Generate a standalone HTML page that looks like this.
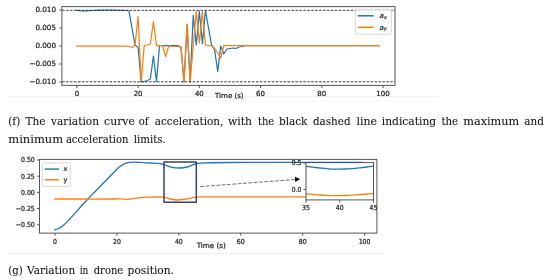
<!DOCTYPE html>
<html><head><meta charset="utf-8"><title>figure</title>
<style>
html,body{margin:0;padding:0;background:#fff;}
body{width:550px;height:280px;overflow:hidden;}
svg{display:block;}
.tk{stroke:#444;stroke-width:0.9;}
.ax text{stroke:#222;stroke-width:0.22px;}
.ax text.cd{font-family:'DejaVu Sans Condensed','DejaVu Sans',sans-serif;font-stretch:condensed;}
</style></head><body>
<svg width="550" height="280" viewBox="0 0 550 280"><rect x="0" y="0" width="550" height="280" fill="#fff"/><line x1="8" y1="96.4" x2="438" y2="96.4" stroke="#f0f0f0" stroke-width="1"/><line x1="8" y1="101.3" x2="432" y2="101.3" stroke="#fafafa" stroke-width="1"/><line x1="8" y1="253.5" x2="384" y2="253.5" stroke="#f0f0f0" stroke-width="1"/><g font-family="'DejaVu Sans', sans-serif" fill="#222" class="ax"><clipPath id="c1"><rect x="61.9" y="6.6" width="333.1" height="78.80000000000001"/></clipPath><g clip-path="url(#c1)"><polyline points="75.94,10.40 76.86,10.40 79.92,10.70 82.98,11.00 86.05,10.80 89.11,10.60 92.17,10.50 95.23,10.40 98.29,10.20 101.36,10.00 104.42,10.00 107.48,10.00 110.54,10.00 113.60,10.00 116.67,10.20 119.73,10.30 122.79,10.40 125.85,10.50 128.91,11.00 131.98,28.00 135.04,45.00 138.10,47.50 141.16,82.00 144.22,81.50 147.29,80.50 150.35,79.00 153.41,56.00 156.47,81.50 159.53,45.50 162.60,45.50 165.66,45.50 168.72,45.50 171.78,45.50 174.84,45.50 177.91,45.60 180.97,47.20 184.03,82.00 187.09,24.50 190.15,82.00 193.22,15.40 196.28,45.00 199.34,11.20 202.40,43.60 205.46,10.70 208.53,28.00 211.59,45.00 214.65,50.00 217.71,71.50 220.77,46.00 223.84,54.00 226.90,49.00 229.96,48.50 233.02,48.00 236.08,48.50 239.15,47.00 242.21,46.50 245.27,45.70 248.33,45.70 251.39,45.70 254.46,45.70 257.52,45.70 260.58,45.70 263.64,45.70 266.70,45.70 269.77,45.70 272.83,45.70 275.89,45.70 278.95,45.70 282.01,45.70 285.08,45.70 288.14,45.70 291.20,45.70 294.26,45.70 297.32,45.70 300.39,45.70 303.45,45.70 306.51,45.70 309.57,45.70 312.63,45.70 315.70,45.70 318.76,45.70 321.82,45.70 324.88,45.70 327.94,45.70 331.01,45.70 334.07,45.70 337.13,45.70 340.19,45.70 343.25,45.70 346.32,45.70 349.38,45.70 352.44,45.70 355.50,45.70 358.56,45.70 361.63,45.70 364.69,45.70 367.75,45.70 370.81,45.70 373.87,45.70 376.94,45.70 380.00,45.70" fill="none" stroke="#1f77b4" stroke-width="1.25" stroke-linejoin="round"/><polyline points="75.94,46.00 76.86,46.00 79.92,46.00 82.98,46.00 86.05,46.00 89.11,46.00 92.17,46.00 95.23,46.00 98.29,46.00 101.36,46.00 104.42,46.00 107.48,46.00 110.54,46.00 113.60,46.00 116.67,46.00 119.73,46.00 122.79,46.00 125.85,46.00 128.91,46.50 131.98,47.50 135.04,45.00 138.10,16.50 141.16,82.00 144.22,45.50 147.29,45.00 150.35,44.00 153.41,21.50 156.47,45.50 159.53,45.50 162.60,45.50 165.66,56.50 168.72,46.00 171.78,46.30 174.84,46.50 177.91,46.70 180.97,47.00 184.03,82.00 187.09,24.00 190.15,82.00 193.22,46.00 196.28,11.20 199.34,43.00 202.40,11.50 205.46,45.20 208.53,45.50 211.59,45.50 214.65,48.50 217.71,53.00 220.77,58.00 223.84,45.50 226.90,45.70 229.96,45.70 233.02,45.70 236.08,45.70 239.15,45.70 242.21,45.70 245.27,45.70 248.33,45.70 251.39,45.70 254.46,45.70 257.52,45.70 260.58,45.70 263.64,45.70 266.70,45.70 269.77,45.70 272.83,45.70 275.89,45.70 278.95,45.70 282.01,45.70 285.08,45.70 288.14,45.70 291.20,45.70 294.26,45.70 297.32,45.70 300.39,45.70 303.45,45.70 306.51,45.70 309.57,45.70 312.63,45.70 315.70,45.70 318.76,45.70 321.82,45.70 324.88,45.70 327.94,45.70 331.01,45.70 334.07,45.70 337.13,45.70 340.19,45.70 343.25,45.70 346.32,45.70 349.38,45.70 352.44,45.70 355.50,45.70 358.56,45.70 361.63,45.70 364.69,45.70 367.75,45.70 370.81,45.70 373.87,45.70 376.94,45.70 380.00,45.70" fill="none" stroke="#ff7f0e" stroke-width="1.25" stroke-linejoin="round"/><line x1="62.19" y1="10.3" x2="395.0" y2="10.3" stroke="#222" stroke-width="0.9" stroke-dasharray="2.5,1.453"/><line x1="62.19" y1="81.8" x2="395.0" y2="81.8" stroke="#222" stroke-width="0.9" stroke-dasharray="2.5,1.453"/></g><rect x="61.9" y="6.6" width="333.1" height="78.80000000000001" fill="none" stroke="#555" stroke-width="1"/><line x1="59.30" y1="10.00" x2="61.90" y2="10.00" class="tk"/><text x="56.00" y="12.29" text-anchor="end" font-size="7.2">0.010</text><line x1="59.30" y1="28.00" x2="61.90" y2="28.00" class="tk"/><text x="56.00" y="30.29" text-anchor="end" font-size="7.2">0.005</text><line x1="59.30" y1="46.00" x2="61.90" y2="46.00" class="tk"/><text x="56.00" y="48.29" text-anchor="end" font-size="7.2">0.000</text><line x1="59.30" y1="64.00" x2="61.90" y2="64.00" class="tk"/><text x="56.00" y="66.29" text-anchor="end" font-size="7.2">−0.005</text><line x1="59.30" y1="82.00" x2="61.90" y2="82.00" class="tk"/><text x="56.00" y="84.29" text-anchor="end" font-size="7.2">−0.010</text><line x1="76.86" y1="85.40" x2="76.86" y2="88.00" class="tk"/><text x="76.86" y="95.80" text-anchor="middle" font-size="7.0">0</text><line x1="138.10" y1="85.40" x2="138.10" y2="88.00" class="tk"/><text x="138.10" y="95.80" text-anchor="middle" font-size="7.0">20</text><line x1="199.34" y1="85.40" x2="199.34" y2="88.00" class="tk"/><text x="199.34" y="95.80" text-anchor="middle" font-size="7.0">40</text><line x1="260.58" y1="85.40" x2="260.58" y2="88.00" class="tk"/><text x="260.58" y="95.80" text-anchor="middle" font-size="7.0">60</text><line x1="321.82" y1="85.40" x2="321.82" y2="88.00" class="tk"/><text x="321.82" y="95.80" text-anchor="middle" font-size="7.0">80</text><line x1="383.06" y1="85.40" x2="383.06" y2="88.00" class="tk"/><text x="383.06" y="95.80" text-anchor="middle" font-size="7.0">100</text><text x="229.3" y="98.3" text-anchor="middle" font-size="7.0">Time (s)</text><rect x="355.4" y="9.2" width="36" height="25" rx="1.5" fill="#fff" fill-opacity="0.8" stroke="#d0d0d0" stroke-width="0.8"/><line x1="357.9" y1="15.8" x2="373.7" y2="15.8" stroke="#1f77b4" stroke-width="1.5"/><line x1="357.9" y1="27.3" x2="373.7" y2="27.3" stroke="#ff7f0e" stroke-width="1.5"/><text x="379.5" y="18.1" font-size="7.2" font-style="italic">a<tspan font-size="4.8" dy="0.8">x</tspan></text><text x="379.5" y="29.5" font-size="7.2" font-style="italic">a<tspan font-size="4.8" dy="0.8">y</tspan></text></g><g font-family="'DejaVu Sans', sans-serif" fill="#222" class="ax"><clipPath id="c2"><rect x="39.5" y="159.4" width="337.4" height="73.69999999999999"/></clipPath><g clip-path="url(#c2)"><path d="M54.10,230.00 C54.67,229.83 56.38,229.43 57.50,229.00 C58.62,228.57 59.80,228.03 60.80,227.40 C61.80,226.77 62.58,226.00 63.50,225.20 C64.42,224.40 64.93,223.98 66.30,222.60 C67.67,221.22 69.90,218.85 71.70,216.90 C73.50,214.95 75.30,212.92 77.10,210.90 C78.90,208.88 80.73,206.75 82.50,204.80 C84.27,202.85 85.62,201.38 87.70,199.20 C89.78,197.02 92.45,194.32 95.00,191.70 C97.55,189.08 100.33,186.23 103.00,183.50 C105.67,180.77 108.47,177.88 111.00,175.30 C113.53,172.72 116.62,169.52 118.20,168.00 C119.78,166.48 119.78,166.72 120.50,166.20 C121.22,165.68 121.58,165.40 122.50,164.90 C123.42,164.40 124.75,163.62 126.00,163.20 C127.25,162.78 128.50,162.57 130.00,162.40 C131.50,162.23 133.33,162.20 135.00,162.20 C136.67,162.20 137.50,162.27 140.00,162.40 C142.50,162.53 146.67,162.80 150.00,163.00 C153.33,163.20 157.50,163.27 160.00,163.60 C162.50,163.93 163.00,164.38 165.00,165.00 C167.00,165.62 169.50,166.80 172.00,167.30 C174.50,167.80 177.50,168.05 180.00,168.00 C182.50,167.95 184.83,167.53 187.00,167.00 C189.17,166.47 191.33,165.38 193.00,164.80 C194.67,164.22 195.00,163.83 197.00,163.50 C199.00,163.17 199.50,162.97 205.00,162.80 C210.50,162.63 214.17,162.57 230.00,162.50 C245.83,162.43 278.00,162.42 300.00,162.40 C322.00,162.38 351.67,162.40 362.00,162.40" fill="none" stroke="#1f77b4" stroke-width="1.3"/><path d="M54.40,199.00 C58.67,199.00 70.23,199.00 80.00,199.00 C89.77,199.00 107.00,199.10 113.00,199.00 C119.00,198.90 115.00,198.43 116.00,198.40 C117.00,198.37 117.00,198.65 119.00,198.80 C121.00,198.95 125.33,199.38 128.00,199.30 C130.67,199.22 133.00,198.58 135.00,198.30 C137.00,198.02 137.50,197.78 140.00,197.60 C142.50,197.42 146.67,197.30 150.00,197.20 C153.33,197.10 157.67,197.00 160.00,197.00 C162.33,197.00 162.33,196.87 164.00,197.20 C165.67,197.53 167.67,198.53 170.00,199.00 C172.33,199.47 175.33,200.00 178.00,200.00 C180.67,200.00 183.50,199.40 186.00,199.00 C188.50,198.60 190.67,197.95 193.00,197.60 C195.33,197.25 198.00,197.03 200.00,196.90 C202.00,196.77 195.00,196.82 205.00,196.80 C215.00,196.78 233.83,196.80 260.00,196.80 C286.17,196.80 345.00,196.80 362.00,196.80" fill="none" stroke="#ff7f0e" stroke-width="1.3"/></g><rect x="39.5" y="159.4" width="337.4" height="73.69999999999999" fill="none" stroke="#555" stroke-width="1"/><line x1="36.90" y1="160.00" x2="39.50" y2="160.00" class="tk"/><text class="cd" x="34.80" y="162.48" text-anchor="end" font-size="6.9">0.50</text><line x1="36.90" y1="176.20" x2="39.50" y2="176.20" class="tk"/><text class="cd" x="34.80" y="178.68" text-anchor="end" font-size="6.9">0.25</text><line x1="36.90" y1="192.40" x2="39.50" y2="192.40" class="tk"/><text class="cd" x="34.80" y="194.88" text-anchor="end" font-size="6.9">0.00</text><line x1="36.90" y1="208.60" x2="39.50" y2="208.60" class="tk"/><text class="cd" x="34.80" y="211.08" text-anchor="end" font-size="6.9">−0.25</text><line x1="36.90" y1="224.80" x2="39.50" y2="224.80" class="tk"/><text class="cd" x="34.80" y="227.28" text-anchor="end" font-size="6.9">−0.50</text><line x1="55.00" y1="233.10" x2="55.00" y2="235.70" class="tk"/><text class="cd" x="55.00" y="243.90" text-anchor="middle" font-size="6.9">0</text><line x1="116.92" y1="233.10" x2="116.92" y2="235.70" class="tk"/><text class="cd" x="116.92" y="243.90" text-anchor="middle" font-size="6.9">20</text><line x1="178.84" y1="233.10" x2="178.84" y2="235.70" class="tk"/><text class="cd" x="178.84" y="243.90" text-anchor="middle" font-size="6.9">40</text><line x1="240.76" y1="233.10" x2="240.76" y2="235.70" class="tk"/><text class="cd" x="240.76" y="243.90" text-anchor="middle" font-size="6.9">60</text><line x1="302.68" y1="233.10" x2="302.68" y2="235.70" class="tk"/><text class="cd" x="302.68" y="243.90" text-anchor="middle" font-size="6.9">80</text><line x1="364.60" y1="233.10" x2="364.60" y2="235.70" class="tk"/><text class="cd" x="364.60" y="243.90" text-anchor="middle" font-size="6.9">100</text><text x="211.3" y="248" text-anchor="middle" font-size="7.2">Time (s)</text><rect x="42.3" y="162.8" width="28" height="23.7" rx="1.5" fill="#fff" fill-opacity="0.8" stroke="#d0d0d0" stroke-width="0.8"/><line x1="44.7" y1="169.1" x2="58.9" y2="169.1" stroke="#1f77b4" stroke-width="1.45"/><line x1="44.7" y1="179.8" x2="58.9" y2="179.8" stroke="#ff7f0e" stroke-width="1.45"/><text x="63.4" y="171.4" font-size="6.6">x</text><text x="63.4" y="182.4" font-size="6.6">y</text><rect x="164" y="162" width="32.3" height="40.2" fill="none" stroke="#34426d" stroke-width="1.5" stroke-linejoin="round"/><line x1="200.3" y1="186.6" x2="295" y2="179.5" stroke="#6a6a6a" stroke-width="0.95" stroke-dasharray="3.8,1.55"/><polygon points="300.1,179.1 294.9,176.7 295.3,181.9" fill="#000"/><rect x="306.0" y="162.6" width="67.5" height="37.30000000000001" fill="#fff"/><clipPath id="c3"><rect x="306.0" y="162.6" width="67.5" height="37.30000000000001"/></clipPath><g clip-path="url(#c3)"><path d="M306.00,166.40 C307.17,166.53 310.67,166.93 313.00,167.20 C315.33,167.47 317.67,167.75 320.00,168.00 C322.33,168.25 324.50,168.50 327.00,168.70 C329.50,168.90 332.00,169.15 335.00,169.20 C338.00,169.25 342.17,169.10 345.00,169.00 C347.83,168.90 349.50,168.80 352.00,168.60 C354.50,168.40 357.50,168.07 360.00,167.80 C362.50,167.53 364.75,167.27 367.00,167.00 C369.25,166.73 372.42,166.33 373.50,166.20" fill="none" stroke="#1f77b4" stroke-width="1.3"/><path d="M306.00,193.80 C307.17,193.88 310.67,194.10 313.00,194.30 C315.33,194.50 317.67,194.82 320.00,195.00 C322.33,195.18 324.50,195.30 327.00,195.40 C329.50,195.50 332.00,195.58 335.00,195.60 C338.00,195.62 342.17,195.58 345.00,195.50 C347.83,195.42 349.50,195.27 352.00,195.10 C354.50,194.93 357.50,194.68 360.00,194.50 C362.50,194.32 364.75,194.17 367.00,194.00 C369.25,193.83 372.42,193.58 373.50,193.50" fill="none" stroke="#ff7f0e" stroke-width="1.3"/></g><rect x="306.0" y="162.6" width="67.5" height="37.30000000000001" fill="none" stroke="#555" stroke-width="1"/><line x1="305.5" y1="162.5" x2="361.8" y2="162.5" stroke="#285a86" stroke-width="1.2"/><line x1="303.40" y1="163.00" x2="306.00" y2="163.00" class="tk"/><text class="cd" x="301.50" y="165.45" text-anchor="end" font-size="6.8">0.5</text><line x1="303.40" y1="189.40" x2="306.00" y2="189.40" class="tk"/><text class="cd" x="301.50" y="191.85" text-anchor="end" font-size="6.8">0.0</text><line x1="306.00" y1="199.90" x2="306.00" y2="202.50" class="tk"/><text class="cd" x="306.00" y="210.20" text-anchor="middle" font-size="6.8">35</text><line x1="339.75" y1="199.90" x2="339.75" y2="202.50" class="tk"/><text class="cd" x="339.75" y="210.20" text-anchor="middle" font-size="6.8">40</text><line x1="373.50" y1="199.90" x2="373.50" y2="202.50" class="tk"/><text class="cd" x="373.50" y="210.20" text-anchor="middle" font-size="6.8">45</text></g><g font-family="'DejaVu Serif', serif" fill="#111" stroke="#111" stroke-width="0.06" font-size="10.7"><text x="8.3" y="124.5" textLength="11.97" lengthAdjust="spacingAndGlyphs">(f)</text><text x="25.5" y="124.5" textLength="20.02" lengthAdjust="spacingAndGlyphs">The</text><text x="51.09" y="124.5" textLength="47.89" lengthAdjust="spacingAndGlyphs">variation</text><text x="104.1" y="124.5" textLength="30.83" lengthAdjust="spacingAndGlyphs">curve</text><text x="138.8" y="124.5" textLength="9.81" lengthAdjust="spacingAndGlyphs">of</text><text x="154.8" y="124.5" textLength="68.49" lengthAdjust="spacingAndGlyphs">acceleration,</text><text x="228.0" y="124.5" textLength="24.08" lengthAdjust="spacingAndGlyphs">with</text><text x="257.9" y="124.5" textLength="16.3" lengthAdjust="spacingAndGlyphs">the</text><text x="279.0" y="124.5" textLength="28.39" lengthAdjust="spacingAndGlyphs">black</text><text x="312.9" y="124.5" textLength="37.75" lengthAdjust="spacingAndGlyphs">dashed</text><text x="356.4" y="124.5" textLength="20.63" lengthAdjust="spacingAndGlyphs">line</text><text x="381.8" y="124.5" textLength="54.34" lengthAdjust="spacingAndGlyphs">indicating</text><text x="441.4" y="124.5" textLength="16.81" lengthAdjust="spacingAndGlyphs">the</text><text x="463.2" y="124.5" textLength="56.14" lengthAdjust="spacingAndGlyphs">maximum</text><text x="524.3" y="124.5" textLength="19.55" lengthAdjust="spacingAndGlyphs">and</text><text x="8.3" y="143.0" textLength="54.84" lengthAdjust="spacingAndGlyphs">minimum</text><text x="65.9" y="143.0" textLength="62.59" lengthAdjust="spacingAndGlyphs">acceleration</text><text x="133.7" y="143.0" textLength="32.18" lengthAdjust="spacingAndGlyphs">limits.</text><text x="8.3" y="274.2" textLength="14.56" lengthAdjust="spacingAndGlyphs">(g)</text><text x="27.08" y="274.2" textLength="48.1" lengthAdjust="spacingAndGlyphs">Variation</text><text x="79.7" y="274.2" textLength="8.8" lengthAdjust="spacingAndGlyphs">in</text><text x="93.7" y="274.2" textLength="29.6" lengthAdjust="spacingAndGlyphs">drone</text><text x="127.6" y="274.2" textLength="46.4" lengthAdjust="spacingAndGlyphs">position.</text></g></svg>
</body></html>
